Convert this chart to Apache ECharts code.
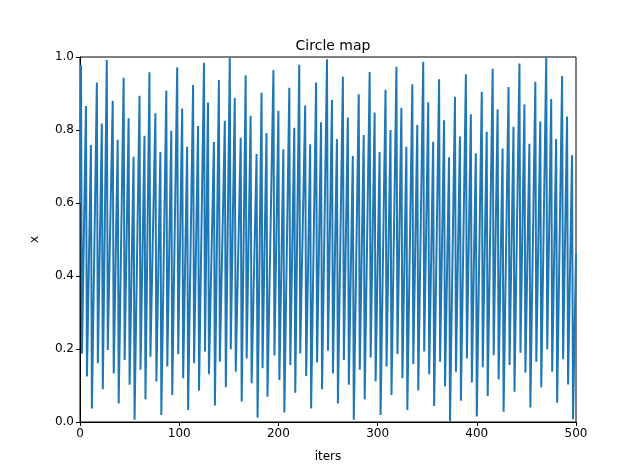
<!DOCTYPE html>
<html>
<head>
<meta charset="utf-8">
<script src="https://cdn.jsdelivr.net/npm/echarts@6/dist/echarts.min.js"></script>
<style>html,body{margin:0;background:#fff}#main{width:640px;height:474px}</style>
</head>
<body>
<div id="main"></div>
<script>
// iterations where the map peaks; the drop lands one step later
const peakIters = [1,6,11,17,22,27,33,38,44,49,54,60,65,70,76,81,87,92,98,103,108,114,119,125,
  129,135,140,146,151,156,162,167,172,178,183,188,195,200,205,211,216,221,227,232,238,243,
  249,254,259,265,270,275,281,286,292,297,302,308,313,319,324,329,335,340,346,351,356,362,367,
  372,378,383,389,394,399,405,410,416,421,426,432,437,443,448,453,459,464,470,475,480,486,491,496];
const peakVals = [0.978,0.866,0.759,0.930,0.818,0.992,0.880,0.773,0.943,0.832,0.727,0.894,0.784,0.958,0.846,0.740,0.908,0.798,0.972,0.859,0.754,0.923,0.811,0.984,
  0.875,0.767,0.937,0.825,0.999,0.888,0.779,0.950,0.839,0.734,0.902,0.792,0.964,0.853,0.747,0.916,0.806,0.979,0.867,0.761,0.930,0.821,
  0.994,0.882,0.775,0.946,0.834,0.729,0.898,0.786,0.959,0.848,0.740,0.910,0.800,0.973,0.861,0.754,0.925,0.814,0.987,0.876,0.768,0.939,0.827,
  0.725,0.891,0.782,0.953,0.843,0.736,0.905,0.795,0.968,0.857,0.749,0.918,0.809,0.982,0.870,0.762,0.932,0.823,1.0,0.885,0.775,0.948,0.837,0.731];
const troughVals = [0.188,0.125,0.037,0.161,0.090,0.197,0.133,0.051,0.170,0.102,0.006,0.143,0.062,0.179,0.111,0.019,0.152,0.074,0.186,0.120,0.033,0.161,0.086,0.193,
  0.131,0.045,0.165,0.095,0.199,0.138,0.056,0.174,0.106,0.012,0.147,0.069,0.182,0.115,0.026,0.156,0.080,0.188,0.126,0.037,0.163,0.090,
  0.195,0.133,0.051,0.170,0.102,0.006,0.143,0.062,0.177,0.111,0.019,0.152,0.074,0.186,0.120,0.033,0.159,0.086,0.193,0.131,0.044,0.165,0.097,
  0.001,0.138,0.058,0.174,0.108,0.015,0.150,0.071,0.183,0.117,0.028,0.156,0.083,0.190,0.135,0.040,0.165,0.095,0.199,0.138,0.053,0.172,0.103,0.007];
const startPoint = [0, 0.60];
const endPoint = [500, 0.46];

const points = [startPoint];
peakIters.forEach((it, i) => {
  points.push([it, peakVals[i]]);
  points.push([it + 1, troughVals[i]]);
});
points.push(endPoint);

const font = 'DejaVu Sans';
const chart = echarts.init(document.getElementById('main'));
chart.setOption({
  animation: false,
  textStyle: { fontFamily: font },
  title: { text: 'Circle map', left: 328, top: 34, textAlign: 'center',
    textStyle: { fontSize: 14, fontWeight: 'normal', color: '#000', fontFamily: font } },
  grid: { left: 80, right: 64, top: 57, bottom: 52, show: true, borderColor: '#000', borderWidth: 1 },
  xAxis: {
    type: 'value', min: 0, max: 500, interval: 100,
    name: 'iters', nameLocation: 'middle', nameGap: 29,
    nameTextStyle: { fontSize: 12, color: '#000' },
    axisLine: { show: true, lineStyle: { color: '#000' } },
    axisTick: { show: true, length: 4, lineStyle: { color: '#000' } },
    axisLabel: { color: '#000', fontSize: 12, margin: 6 },
    splitLine: { show: false }
  },
  yAxis: {
    type: 'value', min: 0, max: 1, interval: 0.2,
    name: 'x', nameLocation: 'middle', nameGap: 39,
    nameTextStyle: { fontSize: 12, color: '#000' },
    axisLine: { show: true, lineStyle: { color: '#000' } },
    axisTick: { show: true, length: 4, lineStyle: { color: '#000' } },
    axisLabel: { color: '#000', fontSize: 12, margin: 6, formatter: v => v.toFixed(1) },
    splitLine: { show: false }
  },
  series: [{
    type: 'line', data: points, showSymbol: false,
    lineStyle: { color: '#1f77b4', width: 2 }
  }]
});
</script>
</body>
</html>
